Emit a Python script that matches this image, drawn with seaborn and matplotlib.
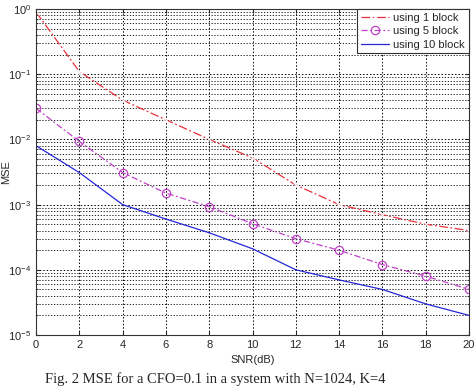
import numpy as np
import pandas as pd
import matplotlib
matplotlib.use("Agg")
import matplotlib.pyplot as plt
import seaborn as sns
from matplotlib.ticker import LogLocator, NullFormatter

snr = [0, 2, 4, 6, 8, 10, 12, 14, 16, 18, 20]
mse_1 = [0.9, 0.11, 0.04, 0.02, 0.01, 0.0052, 0.002, 0.001, 0.0007, 0.0005, 0.0004]
mse_5 = [0.03, 0.0093, 0.0031, 0.0015, 0.00093, 0.00051, 0.0003, 0.0002, 0.00012, 0.00008, 0.00005]
mse_10 = [0.008, 0.0031, 0.001, 0.0006, 0.00037, 0.00021, 0.0001, 0.00007, 0.00005, 0.00003, 0.00002]
labels = ["using 1 block", "using 5 block", "using 10 block"]

sns.set_style("white")
plt.rcParams['font.family'] = ['Liberation Sans', 'DejaVu Sans']

fig = plt.figure(figsize=(4.74, 3.87), dpi=100)
ax = fig.add_axes([36/474, 1-335/387, (469-36)/474, (335-9)/387])

sns.lineplot(x=snr, y=mse_1, ax=ax, color='#e8303a', linestyle=(0, (7, 2, 1.5, 2)), marker='x',
             markersize=4, markeredgewidth=0.8, linewidth=0.9, label=labels[0])
sns.lineplot(x=snr, y=mse_5, ax=ax, color='#c040c8', linestyle=(0, (5, 2, 1.5, 2)), marker='o',
             markersize=6, markerfacecolor='none', markeredgecolor='#c040c8', markeredgewidth=0.9,
             linewidth=0.9, label=labels[1])
sns.lineplot(x=snr, y=mse_10, ax=ax, color='#2626d8', linestyle='-', linewidth=0.9, label=labels[2])

ax.set_yscale('log')
ax.set_xlim(0, 20)
ax.set_ylim(1e-5, 1)
ax.set_xticks(snr)
ax.yaxis.set_major_locator(LogLocator(base=10, numticks=10))
ax.yaxis.set_minor_locator(LogLocator(base=10, subs=np.arange(2, 10), numticks=10))
ax.yaxis.set_minor_formatter(NullFormatter())
ax.grid(True, which='major', color='black', linestyle=(0, (1.5, 2)), linewidth=0.7)
ax.grid(True, which='minor', axis='y', color='black', linestyle=(0, (1.5, 2)), linewidth=0.6)
ax.tick_params(axis='both', which='both', direction='in', labelsize=8, length=3,
               top=True, right=True, bottom=True, left=True)
ax.tick_params(axis='y', which='minor', length=1.5)
for s in ax.spines.values():
    s.set_color('#333333')
    s.set_linewidth(0.8)

ax.set_xlabel('SNR(dB)', fontsize=8, labelpad=4)
ax.set_ylabel('MSE', fontsize=8)
ax.yaxis.set_label_coords(-0.058, 0.5)

leg = ax.legend(loc='upper right', fontsize=8, frameon=True, fancybox=False, edgecolor='#333333',
                borderaxespad=0.0, handlelength=2.5, handletextpad=0.4, labelspacing=0.3,
                borderpad=0.35)
leg.get_frame().set_linewidth(0.8)
leg.get_frame().set_alpha(1)

fig.text(45/474, 1-386/387, "Fig. 2 MSE for a CFO=0.1 in a system with N=1024, K=4",
         family=['Liberation Serif', 'DejaVu Serif'], fontsize=10.5, va='bottom', ha='left')

fig.savefig('out.png', dpi=100)
